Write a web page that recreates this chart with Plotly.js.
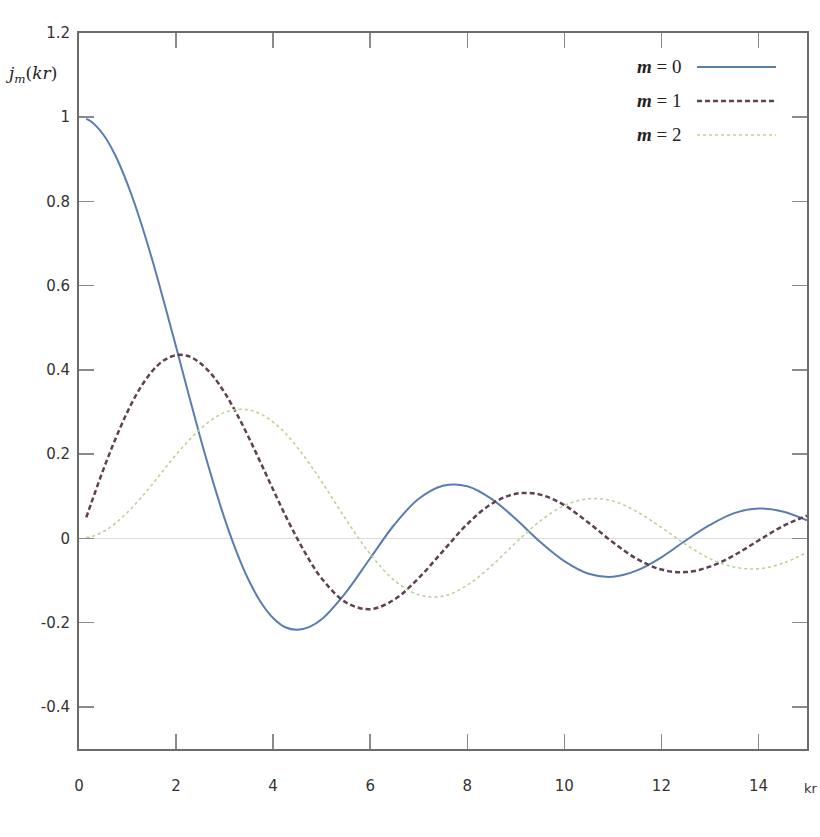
<!DOCTYPE html>
<html>
<head>
<meta charset="utf-8">
<script src="https://cdn.plot.ly/plotly-3.0.1.min.js"></script>
<style>html,body{margin:0;padding:0;background:#fff;}#chart{width:820px;height:837px;}</style>
</head>
<body>
<div id="chart"></div>
<script>
// kr sample points
const kr = [0.15, 0.25, 0.5, 0.75, 1, 1.25, 1.5, 1.75, 2, 2.25, 2.5, 2.75, 3, 3.25, 3.5, 3.75, 4, 4.25, 4.5, 4.75, 5, 5.5, 6, 6.5, 7, 7.5, 8, 8.5, 9, 9.5, 10, 10.5, 11, 11.5, 12, 12.5, 13, 13.5, 14, 14.5, 15];
// m = 0
const j0 = [0.996, 0.990, 0.959, 0.909, 0.841, 0.759, 0.665, 0.562, 0.455, 0.346, 0.239, 0.139, 0.047, -0.033, -0.100, -0.152, -0.189, -0.211, -0.217, -0.210, -0.192, -0.128, -0.047, 0.033, 0.094, 0.125, 0.124, 0.094, 0.046, -0.008, -0.054, -0.084, -0.091, -0.076, -0.045, -0.005, 0.032, 0.060, 0.071, 0.064, 0.043];
// m = 1
const j1 = [0.050, 0.083, 0.163, 0.236, 0.301, 0.355, 0.396, 0.423, 0.435, 0.433, 0.416, 0.387, 0.346, 0.296, 0.239, 0.178, 0.116, 0.055, -0.001, -0.052, -0.095, -0.152, -0.168, -0.145, -0.094, -0.030, 0.034, 0.082, 0.106, 0.104, 0.079, 0.037, -0.009, -0.049, -0.074, -0.080, -0.067, -0.040, -0.005, 0.029, 0.054];
// m = 2
const j2 = [0.002, 0.004, 0.016, 0.036, 0.062, 0.093, 0.127, 0.163, 0.199, 0.231, 0.260, 0.283, 0.299, 0.306, 0.305, 0.295, 0.276, 0.250, 0.216, 0.177, 0.135, 0.045, -0.037, -0.100, -0.134, -0.137, -0.111, -0.065, -0.010, 0.041, 0.078, 0.094, 0.089, 0.063, 0.026, -0.014, -0.048, -0.068, -0.072, -0.059, -0.033];

const xTicks = [0, 2, 4, 6, 8, 10, 12, 14];
const yTicks = [1.2, 1, 0.8, 0.6, 0.4, 0.2, 0, -0.2, -0.4];
const yTickText = ["1.2", "1", "0.8", "0.6", "0.4", "0.2", "0", "-0.2", "-0.4"];
const seriesNames = ["m = 0", "m = 1", "m = 2"];

const colors = ["#5a7db0", "#5e4050", "#b9d396"];
const dashes = ["solid", "5px,3px", "dot"];
const widths = [2, 2.5, 1.6];
const ys = [j0, j1, j2];

const traces = ys.map((y, i) => ({
  x: kr, y: y, type: "scatter", mode: "lines", name: seriesNames[i],
  line: {color: colors[i], width: widths[i], dash: dashes[i], shape: "spline", smoothing: 1},
  showlegend: false, hoverinfo: "skip"
}));

const tickFont = {family: "DejaVu Sans, sans-serif", size: 15, color: "#333"};
const axisCommon = {
  showline: true, linecolor: "#6b6b6b", linewidth: 2, mirror: "ticks",
  ticks: "inside", ticklen: 15, tickcolor: "#8a8a8a", tickwidth: 1.5,
  showgrid: false, tickfont: tickFont
};

const legendRowsY = [67, 101, 135];
const annotations = [
  {xref: "paper", yref: "paper", x: -0.105, y: 1.0, yshift: -41, xanchor: "left", yanchor: "middle",
   text: "<i>j<sub>m</sub></i>(<i>kr</i>)", showarrow: false,
   font: {family: "DejaVu Serif, serif", size: 17, color: "#222"}},
  {xref: "paper", yref: "paper", x: (820 - 79) / 728, y: 0, xanchor: "right", yanchor: "top", yshift: -30,
   text: "kr", showarrow: false, font: {family: "DejaVu Sans, sans-serif", size: 13, color: "#333"}}
];
const shapes = [];
const H = 837, T = 33, B = 88, plotH = H - T - B;
seriesNames.forEach((nm, i) => {
  const yp = 1 - (legendRowsY[i] - T) / plotH;
  annotations.push({xref: "paper", yref: "paper", x: (684 - 79) / 728, y: yp, xanchor: "right", yanchor: "middle",
    text: "<b><i>m</i></b> = " + nm.split("= ")[1], showarrow: false,
    font: {family: "Liberation Serif, serif", size: 19, color: "#222"}});
  shapes.push({type: "line", xref: "paper", yref: "paper", x0: (697 - 79) / 728, x1: (776 - 79) / 728, y0: yp, y1: yp,
    line: {color: colors[i], width: widths[i], dash: dashes[i]}});
});

const layout = {
  width: 820, height: 837,
  margin: {l: 79, r: 13, t: 33, b: 88},
  paper_bgcolor: "#fff", plot_bgcolor: "#fff",
  xaxis: Object.assign({}, axisCommon, {range: [0, 15], tickvals: xTicks, ticktext: xTicks.map(String), zeroline: false, ticklabelstandoff: 22}),
  yaxis: Object.assign({}, axisCommon, {range: [-0.5, 1.2], tickvals: yTicks, ticktext: yTickText,
    zeroline: true, zerolinecolor: "#dedede", zerolinewidth: 1.5, ticklabelstandoff: 4}),
  annotations: annotations, shapes: shapes, showlegend: false
};

Plotly.newPlot("chart", traces, layout, {displayModeBar: false, staticPlot: true});
</script>
</body>
</html>
